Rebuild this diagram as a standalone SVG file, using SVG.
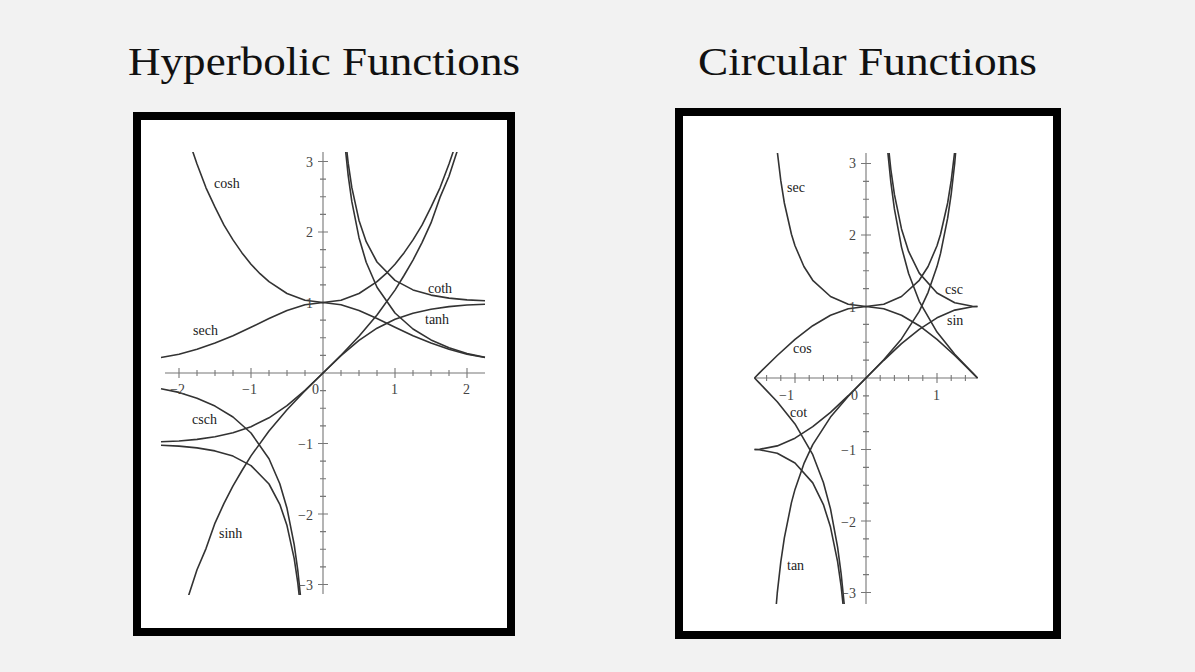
<svg xmlns="http://www.w3.org/2000/svg" width="1195" height="672" viewBox="0 0 1195 672">
<style>
.t{font-family:"Liberation Serif","DejaVu Serif",serif;fill:#222;font-size:14px}
.n{font-family:"Liberation Serif","DejaVu Serif",serif;fill:#444;font-size:14px}
.h{font-family:"Liberation Serif","DejaVu Serif",serif;fill:#111;font-size:39px}
.c{fill:none;stroke:#333;stroke-width:1.6;stroke-linejoin:round}
.ax{fill:none;stroke:#777;stroke-width:1.1}
.fr{fill:#fff;stroke:#000;stroke-width:8}
</style>
<defs>
<clipPath id="cl"><rect x="160" y="152" width="330" height="443"/></clipPath>
<clipPath id="cr"><rect x="750" y="153" width="232" height="451"/></clipPath>
</defs>
<rect width="1195" height="672" fill="#f2f2f2"/>
<text class="h" x="128" y="75" textLength="392" lengthAdjust="spacingAndGlyphs">Hyperbolic Functions</text>
<text class="h" x="698" y="75" textLength="339" lengthAdjust="spacingAndGlyphs">Circular Functions</text>
<g id="hyperbolic">
<rect class="fr" x="137" y="116" width="374" height="516"/>
<path class="ax" d="M165 373H485M323 152V594"/>
<path class="ax" d="M179 368v10M197 370v6M215 370v6M233 370v6M251 368v10M269 370v6M287 370v6M305 370v6M341 370v6M359 370v6M377 370v6M395 368v10M413 370v6M431 370v6M449 370v6M467 368v10M318 161.5h10M320 179.1h6M320 196.8h6M320 214.4h6M318 232h10M320 249.6h6M320 267.3h6M320 284.9h6M318 302.5h10M320 320.1h6M320 337.8h6M320 355.4h6M320 390.6h6M320 408.3h6M320 425.9h6M318 443.5h10M320 461.1h6M320 478.8h6M320 496.4h6M318 514h10M320 531.6h6M320 549.3h6M320 566.9h6M318 584.5h10"/>
<g clip-path="url(#cl)">
<path class="c" d="M179 107.8L188 137.7L197 164L206 187.8L215 207.2L224 225.2L233 239.9L242 252.9L251 264.2L260 273.7L269 281.7L287 293.5L305 300.3L323 302.5L341 300.3L359 293.5L377 281.7L386 273.7L395 264.2L404 252.9L413 239.9L422 225.2L431 207.2L440 187.8L449 164L458 137.7L467 107.8"/>
<path class="c" d="M179 628.7L188 597.4L197 569.7L206 548.6L215 523.1L224 503.4L233 485.9L242 470.5L251 455.9L269 431L287 409.7L305 390.8L323 373L341 355.2L359 336.3L377 315L395 290.1L404 275.5L413 260.1L422 242.6L431 222.9L440 197.4L449 176.3L458 148.6L467 117.3"/>
<path class="c" d="M161 441.8L179 441L197 439.4L215 436.8L233 432.8L251 426.7L269 417.8L287 405.6L305 390.3L323 373L341 355.7L359 340.4L377 328.2L395 319.3L413 313.2L431 309.2L449 306.6L467 305L485 304.2"/>
<path class="c" d="M341 94L344.6 131L348.2 163.2L351.8 187.4L359 220.4L366.2 241.7L377 262L395 280.4L413 289.9L431 295.1L449 298.1L467 299.9L485 300.7"/>
<path class="c" d="M305 652L301.4 615L297.8 582.8L294.2 558.6L287 525.6L279.8 504.3L269 484L251 465.6L233 456.1L215 450.9L197 447.9L179 446.1L161 445.3"/>
<path class="c" d="M341 94L344.6 141.1L348.2 175.6L351.8 201.4L359 237.7L366.2 262.3L377 287.3L395 313L413 329L431 339.9L449 347.7L467 353.6L485 357.2"/>
<path class="c" d="M305 652L301.4 604.9L297.8 570.4L294.2 544.6L287 508.3L279.8 483.7L269 458.7L251 433L233 417L215 406.1L197 398.3L179 392.4L161 388.8"/>
<path class="c" d="M161 357.5L179 354.3L197 349.2L215 343L233 335.7L251 327.3L269 318.5L287 310.5L305 304.7L323 302.5L341 304.7L359 310.5L377 318.5L395 327.3L413 335.7L431 343L449 349.2L467 354.3L485 357.5"/>
</g>
<text class="t" x="214" y="188">cosh</text>
<text class="t" x="428" y="293">coth</text>
<text class="t" x="425" y="324">tanh</text>
<text class="t" x="193" y="335">sech</text>
<text class="t" x="192" y="424">csch</text>
<text class="t" x="219" y="538">sinh</text>
<text class="n" x="306" y="167">3</text>
<text class="n" x="306" y="237">2</text>
<text class="n" x="306" y="308">1</text>
<text class="n" x="170" y="394">−2</text>
<text class="n" x="242" y="394">−1</text>
<text class="n" x="312" y="394">0</text>
<text class="n" x="391" y="394">1</text>
<text class="n" x="463" y="394">2</text>
<text class="n" x="298" y="449">−1</text>
<text class="n" x="298" y="520">−2</text>
<text class="n" x="298" y="590">−3</text>
</g>
<g id="circular">
<rect class="fr" x="679" y="112" width="378" height="523"/>
<path class="ax" d="M754.5 378H978M866 153V604"/>
<path class="ax" d="M766.6 375v6M780.8 375v6M795 373v10M809.2 375v6M823.4 375v6M837.6 375v6M851.8 375v6M880.2 375v6M894.4 375v6M908.6 375v6M922.8 375v6M937 373v10M951.2 375v6M965.4 375v6M861 163.5h10M863 181.4h6M863 199.3h6M863 217.1h6M861 235h10M863 252.9h6M863 270.8h6M863 288.6h6M861 306.5h10M863 324.4h6M863 342.3h6M863 360.1h6M863 395.9h6M863 413.8h6M863 431.6h6M861 449.5h10M863 467.4h6M863 485.3h6M863 503.1h6M861 521h10M863 538.9h6M863 556.8h6M863 574.6h6M861 592.5h10"/>
<g clip-path="url(#cr)">
<path class="c" d="M754.5 449.5L759.5 449.3L777.25 445.9L795 438.2L812.75 426.7L830.5 412.3L848.25 395.7L866 378L883.75 360.3L901.5 343.7L919.25 329.3L937 317.8L954.75 310.1L972.5 306.7L977.5 306.5"/>
<path class="c" d="M754.5 378L759.5 372.9L777.25 355.5L795 339.4L812.75 325.7L830.5 315.3L848.25 308.7L866 306.5L883.75 308.7L901.5 315.3L919.25 325.7L937 339.4L954.75 355.5L972.5 372.9L977.5 378"/>
<path class="c" d="M773.7 110.7L777.25 151.2L780.8 180.7L784.35 203L791.45 234.3L795 245.7L803.9 266.5L812.75 280.3L830.5 296.5L848.25 304.2L866 306.5L883.75 304.2L901.5 296.5L919.25 280.3L928.1 266.5L937 245.7L940.55 234.3L947.65 203L951.2 180.7L954.75 151.2L958.3 110.7"/>
<path class="c" d="M883.75 89L887.3 136.1L890.85 169.5L894.4 194.4L901.5 228.9L908.6 251.4L919.25 273.1L937 293L954.75 302.7L972.5 306.3L977.5 306.5"/>
<path class="c" d="M848.25 667L844.7 619.9L841.15 586.5L837.6 561.6L830.5 527.1L823.4 504.6L812.75 482.9L795 463L777.25 453.3L759.5 449.7L754.5 449.5"/>
<path class="c" d="M773.7 635.6L777.25 593.2L780.8 561.9L784.35 537.8L791.45 502.6L795 489.4L803.9 463.7L812.75 444.6L830.5 417.1L848.25 396.3L866 378L883.75 359.7L901.5 338.9L919.25 311.4L928.1 292.3L937 266.6L940.55 253.4L947.65 218.2L951.2 194.1L954.75 162.8L958.3 120.4"/>
<path class="c" d="M883.75 98L887.3 146.9L890.85 182.1L894.4 208.9L901.5 247.1L908.6 273.5L919.25 301.3L937 332.1L954.75 354.2L972.5 372.9L977.5 378"/>
<path class="c" d="M848.25 658L844.7 609.1L841.15 573.9L837.6 547.1L830.5 508.9L823.4 482.5L812.75 454.7L795 423.9L777.25 401.8L759.5 383.1L754.5 378"/>
</g>
<text class="t" x="787" y="192">sec</text>
<text class="t" x="945" y="294">csc</text>
<text class="t" x="947" y="325">sin</text>
<text class="t" x="793" y="353">cos</text>
<text class="t" x="790" y="417">cot</text>
<text class="t" x="787" y="570">tan</text>
<text class="n" x="849" y="168">3</text>
<text class="n" x="849" y="240">2</text>
<text class="n" x="849" y="312">1</text>
<text class="n" x="779" y="400">−1</text>
<text class="n" x="851" y="400">0</text>
<text class="n" x="933" y="400">1</text>
<text class="n" x="841" y="455">−1</text>
<text class="n" x="841" y="527">−2</text>
<text class="n" x="841" y="598">−3</text>
</g>
</svg>
